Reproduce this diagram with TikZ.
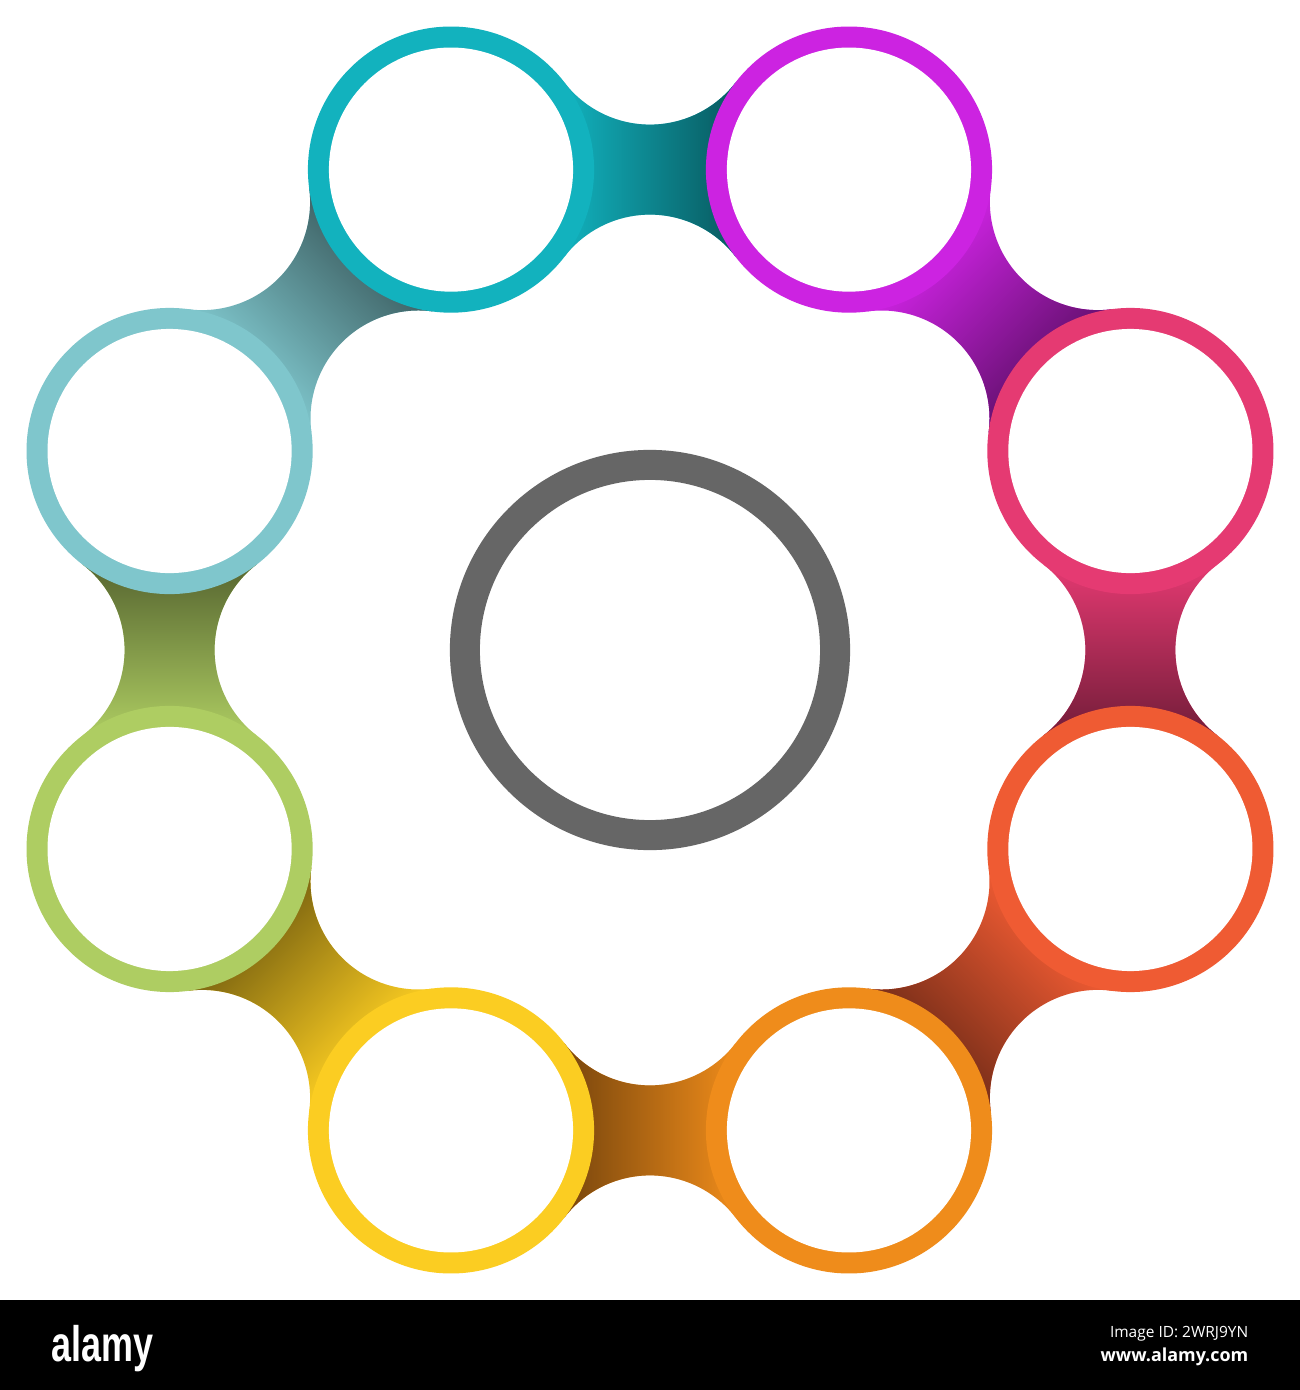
\documentclass[tikz,border=0pt]{standalone}
\usepackage{fontspec}
\usetikzlibrary{fadings}
\newfontfamily\logofont{Liberation Sans}
\newfontfamily\idfont{Open Sans}

\definecolor{cTeal}{HTML}{12B2BE}
\definecolor{cMagenta}{HTML}{CC23E1}
\definecolor{cPink}{HTML}{E53A72}
\definecolor{cRed}{HTML}{EF5B33}
\definecolor{cOrange}{HTML}{EF8C1B}
\definecolor{cYellow}{HTML}{FBCD22}
\definecolor{cGreen}{HTML}{AECD62}
\definecolor{cAqua}{HTML}{7FC6CC}
\definecolor{cHub}{HTML}{666666}

\tikzfading[name=neckfade, left color=transparent!100, middle color=transparent!100, right color=transparent!0]

\tikzset{
    neck/.style={fill=#1, postaction={fill=#1!50!black, path fading=neckfade},
        insert path={(113.35, 87.18) arc[start angle=217.56, end angle=322.44, radius=108.05]
            -- (284.65, -87.18) arc[start angle=37.56, end angle=142.44, radius=108.05] -- cycle}},
    ring/.style={circle, inner sep=0pt, minimum size=2.86cm, fill=#1,
        path picture={\fill[white] (path picture bounding box.center) circle (1.22cm);}},
    hub/.style={circle, inner sep=0pt, minimum size=3.7cm, line width=0.3cm, draw=cHub, fill=white}
}

\begin{document}
\begin{tikzpicture}[x=0.01cm, y=0.01cm]
        \useasboundingbox (-650, -740) rectangle (650, 650);
        \fill[white] (-650, -650) rectangle (650, 650);

        % ---necks between neighbouring rings
        \begin{scope}[transform canvas={shift={(112.5:520)}, rotate=0}]
            \fill[neck=cTeal];
        \end{scope}
        \begin{scope}[transform canvas={shift={(67.5:520)}, rotate=-45}]
            \fill[neck=cMagenta];
        \end{scope}
        \begin{scope}[transform canvas={shift={(22.5:520)}, rotate=-90}]
            \fill[neck=cPink];
        \end{scope}
        \begin{scope}[transform canvas={shift={(-22.5:520)}, rotate=-135}]
            \fill[neck=cRed];
        \end{scope}
        \begin{scope}[transform canvas={shift={(-67.5:520)}, rotate=-180}]
            \fill[neck=cOrange];
        \end{scope}
        \begin{scope}[transform canvas={shift={(-112.5:520)}, rotate=-225}]
            \fill[neck=cYellow];
        \end{scope}
        \begin{scope}[transform canvas={shift={(-157.5:520)}, rotate=-270}]
            \fill[neck=cGreen];
        \end{scope}
        \begin{scope}[transform canvas={shift={(157.5:520)}, rotate=-315}]
            \fill[neck=cAqua];
        \end{scope}

        % ---rings
        \node[ring=cTeal] (teal) at (112.5:520) {};
        \node[ring=cMagenta] (magenta) at (67.5:520) {};
        \node[ring=cPink] (pink) at (22.5:520) {};
        \node[ring=cRed] (red) at (-22.5:520) {};
        \node[ring=cOrange] (orange) at (-67.5:520) {};
        \node[ring=cYellow] (yellow) at (-112.5:520) {};
        \node[ring=cGreen] (green) at (-157.5:520) {};
        \node[ring=cAqua] (aqua) at (157.5:520) {};

        % ---centre
        \node[hub] (centre) at (0, 0) {};

        % ---bar
        \fill[black] (-650, -740) rectangle (650, -650);
        \node[anchor=base west, inner sep=0pt, text=white, font=\logofont\bfseries\fontsize{14.2}{14.2}\selectfont]
            (logo) at (-599, -711) {\scalebox{0.72}[1]{alamy}};
        \node[anchor=base east, inner sep=0pt, text=white, font=\idfont\fontsize{4.4}{4.4}\selectfont]
            (imageid) at (599, -687) {Image ID: 2WRJ9YN};
        \node[anchor=base east, inner sep=0pt, text=white, font=\idfont\bfseries\fontsize{5.1}{5.1}\selectfont]
            (site) at (599, -711) {www.alamy.com};
    \end{tikzpicture}
\end{document}
